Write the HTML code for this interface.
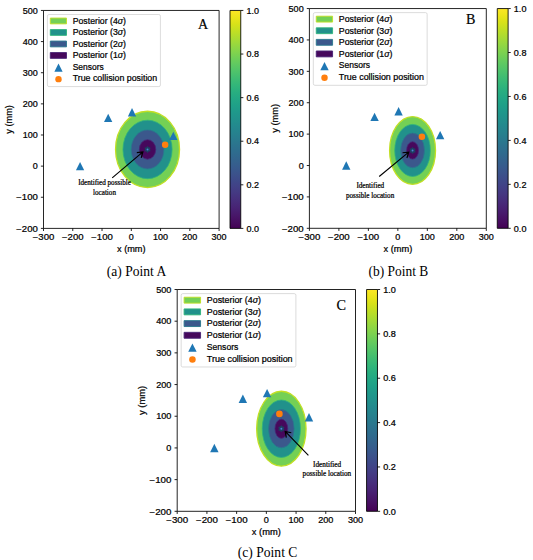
<!DOCTYPE html>
<html><head><meta charset="utf-8"><title>Figure</title>
<style>html,body{margin:0;padding:0;background:#fff;}body{width:533px;height:560px;overflow:hidden;}svg{display:block;}</style></head>
<body>
<svg width="533" height="560" viewBox="0 0 533 560" style="font-family:'Liberation Sans',sans-serif" stroke-linejoin="round">
<style>text{stroke:#000;stroke-width:0.22px;} .cap text{stroke:none;}</style>
<defs><linearGradient id="vir" x1="0" y1="0" x2="0" y2="1"><stop offset="0.0000" stop-color="#fde725"/><stop offset="0.0312" stop-color="#ece51b"/><stop offset="0.0625" stop-color="#d8e219"/><stop offset="0.0938" stop-color="#c2df23"/><stop offset="0.1250" stop-color="#addc30"/><stop offset="0.1562" stop-color="#98d83e"/><stop offset="0.1875" stop-color="#84d44b"/><stop offset="0.2188" stop-color="#70cf57"/><stop offset="0.2500" stop-color="#5ec962"/><stop offset="0.2812" stop-color="#4ec36b"/><stop offset="0.3125" stop-color="#3fbc73"/><stop offset="0.3438" stop-color="#32b67a"/><stop offset="0.3750" stop-color="#28ae80"/><stop offset="0.4062" stop-color="#22a785"/><stop offset="0.4375" stop-color="#1fa088"/><stop offset="0.4688" stop-color="#1f988b"/><stop offset="0.5000" stop-color="#21918c"/><stop offset="0.5312" stop-color="#23898e"/><stop offset="0.5625" stop-color="#26828e"/><stop offset="0.5938" stop-color="#297a8e"/><stop offset="0.6250" stop-color="#2c728e"/><stop offset="0.6562" stop-color="#2f6b8e"/><stop offset="0.6875" stop-color="#33638d"/><stop offset="0.7188" stop-color="#375b8d"/><stop offset="0.7500" stop-color="#3b528b"/><stop offset="0.7812" stop-color="#3e4989"/><stop offset="0.8125" stop-color="#424086"/><stop offset="0.8438" stop-color="#453781"/><stop offset="0.8750" stop-color="#472d7b"/><stop offset="0.9062" stop-color="#482374"/><stop offset="0.9375" stop-color="#48186a"/><stop offset="0.9688" stop-color="#470d60"/><stop offset="1.0000" stop-color="#440154"/></linearGradient></defs>
<rect width="533" height="560" fill="#fff"/>
<g transform="translate(43.5,10.45) scale(1.0,1.0)">
<g>
<ellipse cx="104.04" cy="138.99" rx="32.00" ry="38.20" fill="#74d055" stroke="#c2df23" stroke-width="1.3"/>
<ellipse cx="104.04" cy="138.99" rx="24.60" ry="29.25" fill="#21918b" stroke="#2fb47c" stroke-width="0.8"/>
<ellipse cx="104.04" cy="138.99" rx="16.40" ry="19.50" fill="#3b588c" stroke="#2a788e" stroke-width="0.8"/>
<ellipse cx="104.04" cy="138.99" rx="8.20" ry="9.75" fill="#46085c" stroke="#482475" stroke-width="0.8"/>
<polygon points="104.04,135.49 102.79,136.82 101.01,137.24 101.54,138.99 101.01,140.74 102.79,141.15 104.04,142.49 105.29,141.15 107.07,140.74 106.54,138.99 107.07,137.24 105.29,136.82" fill="#1d3f62"/>
<circle cx="104.04" cy="138.99" r="0.95" fill="#4a82d4"/>
</g>
<path d="M36.58,151.53 L32.43,159.83 L40.73,159.83 Z" fill="#1f77b4"/>
<path d="M64.68,103.27 L60.53,111.57 L68.83,111.57 Z" fill="#1f77b4"/>
<path d="M88.53,97.66 L84.38,105.96 L92.68,105.96 Z" fill="#1f77b4"/>
<path d="M129.80,121.33 L125.65,129.63 L133.95,129.63 Z" fill="#1f77b4"/>
<circle cx="121.63" cy="134.35" r="3.25" fill="#ff7f0e"/>
<path d="M68.70,167.45 L99.40,141.45 M97.71,147.34 L99.40,141.45 L93.31,142.15" stroke="#000" stroke-width="1.15" fill="none" stroke-linejoin="miter" style="stroke:#000"/>
<text x="61.00" y="175.00" text-anchor="middle" font-size="7.6" textLength="52.65" lengthAdjust="spacingAndGlyphs" style="font-family:'Liberation Serif',serif;stroke-width:0.24px" fill="#000">Identified possible</text>
<text x="61.00" y="184.40" text-anchor="middle" font-size="7.6" textLength="22.87" lengthAdjust="spacingAndGlyphs" style="font-family:'Liberation Serif',serif;stroke-width:0.24px" fill="#000">location</text>
<text x="154.60" y="18.15" font-size="14" style="font-family:'Liberation Serif',serif;stroke-width:0.2px">A</text>
<rect x="3.9" y="4.05" width="113.0" height="72.1" rx="1.6" ry="1.6" fill="#fff" fill-opacity="0.8" stroke="#d0d0d0" stroke-width="0.75"/>
<rect x="6.80" y="7.60" width="16.2" height="5.8" fill="#74d055" stroke="#c2df23" stroke-width="0.9"/>
<text x="29.20" y="13.30" font-size="8.3" textLength="53.28" lengthAdjust="spacingAndGlyphs">Posterior (4<tspan font-style="italic">σ</tspan>)</text>
<rect x="6.80" y="19.10" width="16.2" height="5.8" fill="#21918b" stroke="#2fb47c" stroke-width="0.9"/>
<text x="29.20" y="24.80" font-size="8.3" textLength="53.28" lengthAdjust="spacingAndGlyphs">Posterior (3<tspan font-style="italic">σ</tspan>)</text>
<rect x="6.80" y="30.60" width="16.2" height="5.8" fill="#3b588c" stroke="#2a788e" stroke-width="0.9"/>
<text x="29.20" y="36.30" font-size="8.3" textLength="53.28" lengthAdjust="spacingAndGlyphs">Posterior (2<tspan font-style="italic">σ</tspan>)</text>
<rect x="6.80" y="42.10" width="16.2" height="5.8" fill="#46085c" stroke="#482475" stroke-width="0.9"/>
<text x="29.20" y="47.80" font-size="8.3" textLength="53.28" lengthAdjust="spacingAndGlyphs">Posterior (1<tspan font-style="italic">σ</tspan>)</text>
<path d="M15.00,52.95 L10.85,61.25 L19.15,61.25 Z" fill="#1f77b4"/>
<text x="29.20" y="59.30" text-anchor="start" font-size="8.3" textLength="31.00" lengthAdjust="spacingAndGlyphs" >Sensors</text>
<circle cx="15.00" cy="68.70" r="3.2" fill="#ff7f0e"/>
<text x="29.20" y="70.80" text-anchor="start" font-size="8.3" textLength="84.47" lengthAdjust="spacingAndGlyphs" >True collision position</text>
<rect x="0" y="0" width="175.6" height="217.95" fill="none" stroke="#000" stroke-width="0.85"/>
<text x="0.00" y="229.65" text-anchor="middle" font-size="8.3" textLength="21.56" lengthAdjust="spacingAndGlyphs" >−300</text>
<text x="29.27" y="229.65" text-anchor="middle" font-size="8.3" textLength="21.56" lengthAdjust="spacingAndGlyphs" >−200</text>
<text x="58.53" y="229.65" text-anchor="middle" font-size="8.3" textLength="21.56" lengthAdjust="spacingAndGlyphs" >−100</text>
<text x="87.80" y="229.65" text-anchor="middle" font-size="8.3" textLength="4.99" lengthAdjust="spacingAndGlyphs" >0</text>
<text x="117.07" y="229.65" text-anchor="middle" font-size="8.3" textLength="14.98" lengthAdjust="spacingAndGlyphs" >100</text>
<text x="146.33" y="229.65" text-anchor="middle" font-size="8.3" textLength="14.98" lengthAdjust="spacingAndGlyphs" >200</text>
<text x="175.60" y="229.65" text-anchor="middle" font-size="8.3" textLength="14.98" lengthAdjust="spacingAndGlyphs" >300</text>
<text x="-5.70" y="221.15" text-anchor="end" font-size="8.3" textLength="21.56" lengthAdjust="spacingAndGlyphs" >−200</text>
<text x="-5.70" y="190.01" text-anchor="end" font-size="8.3" textLength="21.56" lengthAdjust="spacingAndGlyphs" >−100</text>
<text x="-5.70" y="158.88" text-anchor="end" font-size="8.3" textLength="4.99" lengthAdjust="spacingAndGlyphs" >0</text>
<text x="-5.70" y="127.74" text-anchor="end" font-size="8.3" textLength="14.98" lengthAdjust="spacingAndGlyphs" >100</text>
<text x="-5.70" y="96.61" text-anchor="end" font-size="8.3" textLength="14.98" lengthAdjust="spacingAndGlyphs" >200</text>
<text x="-5.70" y="65.47" text-anchor="end" font-size="8.3" textLength="14.98" lengthAdjust="spacingAndGlyphs" >300</text>
<text x="-5.70" y="34.34" text-anchor="end" font-size="8.3" textLength="14.98" lengthAdjust="spacingAndGlyphs" >400</text>
<text x="-5.70" y="3.20" text-anchor="end" font-size="8.3" textLength="14.98" lengthAdjust="spacingAndGlyphs" >500</text>
<path d="M0.00,217.95 v2.6 M29.27,217.95 v2.6 M58.53,217.95 v2.6 M87.80,217.95 v2.6 M117.07,217.95 v2.6 M146.33,217.95 v2.6 M175.60,217.95 v2.6 M0,217.95 h-2.6 M0,186.81 h-2.6 M0,155.68 h-2.6 M0,124.54 h-2.6 M0,93.41 h-2.6 M0,62.27 h-2.6 M0,31.14 h-2.6 M0,0.00 h-2.6" stroke="#000" stroke-width="0.85"/>
<text x="87.80" y="241.15" text-anchor="middle" font-size="8.3" textLength="28.56" lengthAdjust="spacingAndGlyphs" >x (mm)</text>
<g transform="translate(-31.6,108.97) rotate(-90)"><text x="0.00" y="0.00" text-anchor="middle" font-size="8.3" textLength="28.56" lengthAdjust="spacingAndGlyphs" >y (mm)</text></g>
<rect x="186.5" y="0" width="10.75" height="217.95" fill="url(#vir)" stroke="#000" stroke-width="0.85"/>
<text x="202.95" y="221.15" text-anchor="start" font-size="8.3" textLength="12.48" lengthAdjust="spacingAndGlyphs" >0.0</text>
<text x="202.95" y="177.56" text-anchor="start" font-size="8.3" textLength="12.48" lengthAdjust="spacingAndGlyphs" >0.2</text>
<text x="202.95" y="133.97" text-anchor="start" font-size="8.3" textLength="12.48" lengthAdjust="spacingAndGlyphs" >0.4</text>
<text x="202.95" y="90.38" text-anchor="start" font-size="8.3" textLength="12.48" lengthAdjust="spacingAndGlyphs" >0.6</text>
<text x="202.95" y="46.79" text-anchor="start" font-size="8.3" textLength="12.48" lengthAdjust="spacingAndGlyphs" >0.8</text>
<text x="202.95" y="3.20" text-anchor="start" font-size="8.3" textLength="12.48" lengthAdjust="spacingAndGlyphs" >1.0</text>
<path d="M197.25,217.95 h2.6 M197.25,174.36 h2.6 M197.25,130.77 h2.6 M197.25,87.18 h2.6 M197.25,43.59 h2.6 M197.25,0.00 h2.6" stroke="#000" stroke-width="0.85"/>
</g>
<g transform="translate(309.4,8.55) scale(1.0074031890660593,1.0082587749483827)">
<g>
<ellipse cx="102.40" cy="140.73" rx="22.80" ry="33.60" fill="#74d055" stroke="#c2df23" stroke-width="1.3"/>
<ellipse cx="102.40" cy="140.73" rx="17.70" ry="25.80" fill="#21918b" stroke="#2fb47c" stroke-width="0.8"/>
<ellipse cx="102.40" cy="140.73" rx="11.80" ry="17.20" fill="#3b588c" stroke="#2a788e" stroke-width="0.8"/>
<ellipse cx="102.40" cy="140.73" rx="5.90" ry="8.60" fill="#46085c" stroke="#482475" stroke-width="0.8"/>
<polygon points="102.40,137.23 101.15,138.57 99.37,138.98 99.90,140.73 99.37,142.48 101.15,142.90 102.40,144.23 103.65,142.90 105.44,142.48 104.90,140.73 105.44,138.98 103.65,138.57" fill="#1d3f62"/>
<circle cx="102.40" cy="140.73" r="0.95" fill="#4a82d4"/>
</g>
<path d="M36.58,151.53 L32.43,159.83 L40.73,159.83 Z" fill="#1f77b4"/>
<path d="M64.68,103.27 L60.53,111.57 L68.83,111.57 Z" fill="#1f77b4"/>
<path d="M88.53,97.66 L84.38,105.96 L92.68,105.96 Z" fill="#1f77b4"/>
<path d="M129.80,121.33 L125.65,129.63 L133.95,129.63 Z" fill="#1f77b4"/>
<circle cx="111.68" cy="127.10" r="3.25" fill="#ff7f0e"/>
<path d="M69.29,166.57 L98.57,142.37 M96.80,148.24 L98.57,142.37 L92.47,143.00" stroke="#000" stroke-width="1.15" fill="none" stroke-linejoin="miter" style="stroke:#000"/>
<text x="60.45" y="178.43" text-anchor="middle" font-size="7.6" textLength="27.60" lengthAdjust="spacingAndGlyphs" style="font-family:'Liberation Serif',serif;stroke-width:0.24px" fill="#000">Identified</text>
<text x="60.25" y="187.65" text-anchor="middle" font-size="7.6" textLength="47.92" lengthAdjust="spacingAndGlyphs" style="font-family:'Liberation Serif',serif;stroke-width:0.24px" fill="#000">possible location</text>
<text x="155.55" y="15.52" font-size="14" style="font-family:'Liberation Serif',serif;stroke-width:0.2px">B</text>
<rect x="3.9" y="4.05" width="113.0" height="72.1" rx="1.6" ry="1.6" fill="#fff" fill-opacity="0.8" stroke="#d0d0d0" stroke-width="0.75"/>
<rect x="6.80" y="7.60" width="16.2" height="5.8" fill="#74d055" stroke="#c2df23" stroke-width="0.9"/>
<text x="29.20" y="13.30" font-size="8.3" textLength="53.28" lengthAdjust="spacingAndGlyphs">Posterior (4<tspan font-style="italic">σ</tspan>)</text>
<rect x="6.80" y="19.10" width="16.2" height="5.8" fill="#21918b" stroke="#2fb47c" stroke-width="0.9"/>
<text x="29.20" y="24.80" font-size="8.3" textLength="53.28" lengthAdjust="spacingAndGlyphs">Posterior (3<tspan font-style="italic">σ</tspan>)</text>
<rect x="6.80" y="30.60" width="16.2" height="5.8" fill="#3b588c" stroke="#2a788e" stroke-width="0.9"/>
<text x="29.20" y="36.30" font-size="8.3" textLength="53.28" lengthAdjust="spacingAndGlyphs">Posterior (2<tspan font-style="italic">σ</tspan>)</text>
<rect x="6.80" y="42.10" width="16.2" height="5.8" fill="#46085c" stroke="#482475" stroke-width="0.9"/>
<text x="29.20" y="47.80" font-size="8.3" textLength="53.28" lengthAdjust="spacingAndGlyphs">Posterior (1<tspan font-style="italic">σ</tspan>)</text>
<path d="M15.00,52.95 L10.85,61.25 L19.15,61.25 Z" fill="#1f77b4"/>
<text x="29.20" y="59.30" text-anchor="start" font-size="8.3" textLength="31.00" lengthAdjust="spacingAndGlyphs" >Sensors</text>
<circle cx="15.00" cy="68.70" r="3.2" fill="#ff7f0e"/>
<text x="29.20" y="70.80" text-anchor="start" font-size="8.3" textLength="84.47" lengthAdjust="spacingAndGlyphs" >True collision position</text>
<rect x="0" y="0" width="175.6" height="217.95" fill="none" stroke="#000" stroke-width="0.85"/>
<text x="0.00" y="229.65" text-anchor="middle" font-size="8.3" textLength="21.56" lengthAdjust="spacingAndGlyphs" >−300</text>
<text x="29.27" y="229.65" text-anchor="middle" font-size="8.3" textLength="21.56" lengthAdjust="spacingAndGlyphs" >−200</text>
<text x="58.53" y="229.65" text-anchor="middle" font-size="8.3" textLength="21.56" lengthAdjust="spacingAndGlyphs" >−100</text>
<text x="87.80" y="229.65" text-anchor="middle" font-size="8.3" textLength="4.99" lengthAdjust="spacingAndGlyphs" >0</text>
<text x="117.07" y="229.65" text-anchor="middle" font-size="8.3" textLength="14.98" lengthAdjust="spacingAndGlyphs" >100</text>
<text x="146.33" y="229.65" text-anchor="middle" font-size="8.3" textLength="14.98" lengthAdjust="spacingAndGlyphs" >200</text>
<text x="175.60" y="229.65" text-anchor="middle" font-size="8.3" textLength="14.98" lengthAdjust="spacingAndGlyphs" >300</text>
<text x="-5.70" y="221.15" text-anchor="end" font-size="8.3" textLength="21.56" lengthAdjust="spacingAndGlyphs" >−200</text>
<text x="-5.70" y="190.01" text-anchor="end" font-size="8.3" textLength="21.56" lengthAdjust="spacingAndGlyphs" >−100</text>
<text x="-5.70" y="158.88" text-anchor="end" font-size="8.3" textLength="4.99" lengthAdjust="spacingAndGlyphs" >0</text>
<text x="-5.70" y="127.74" text-anchor="end" font-size="8.3" textLength="14.98" lengthAdjust="spacingAndGlyphs" >100</text>
<text x="-5.70" y="96.61" text-anchor="end" font-size="8.3" textLength="14.98" lengthAdjust="spacingAndGlyphs" >200</text>
<text x="-5.70" y="65.47" text-anchor="end" font-size="8.3" textLength="14.98" lengthAdjust="spacingAndGlyphs" >300</text>
<text x="-5.70" y="34.34" text-anchor="end" font-size="8.3" textLength="14.98" lengthAdjust="spacingAndGlyphs" >400</text>
<text x="-5.70" y="3.20" text-anchor="end" font-size="8.3" textLength="14.98" lengthAdjust="spacingAndGlyphs" >500</text>
<path d="M0.00,217.95 v2.6 M29.27,217.95 v2.6 M58.53,217.95 v2.6 M87.80,217.95 v2.6 M117.07,217.95 v2.6 M146.33,217.95 v2.6 M175.60,217.95 v2.6 M0,217.95 h-2.6 M0,186.81 h-2.6 M0,155.68 h-2.6 M0,124.54 h-2.6 M0,93.41 h-2.6 M0,62.27 h-2.6 M0,31.14 h-2.6 M0,0.00 h-2.6" stroke="#000" stroke-width="0.85"/>
<text x="87.80" y="241.15" text-anchor="middle" font-size="8.3" textLength="28.56" lengthAdjust="spacingAndGlyphs" >x (mm)</text>
<g transform="translate(-31.6,108.97) rotate(-90)"><text x="0.00" y="0.00" text-anchor="middle" font-size="8.3" textLength="28.56" lengthAdjust="spacingAndGlyphs" >y (mm)</text></g>
<rect x="186.5" y="0" width="10.75" height="217.95" fill="url(#vir)" stroke="#000" stroke-width="0.85"/>
<text x="202.95" y="221.15" text-anchor="start" font-size="8.3" textLength="12.48" lengthAdjust="spacingAndGlyphs" >0.0</text>
<text x="202.95" y="177.56" text-anchor="start" font-size="8.3" textLength="12.48" lengthAdjust="spacingAndGlyphs" >0.2</text>
<text x="202.95" y="133.97" text-anchor="start" font-size="8.3" textLength="12.48" lengthAdjust="spacingAndGlyphs" >0.4</text>
<text x="202.95" y="90.38" text-anchor="start" font-size="8.3" textLength="12.48" lengthAdjust="spacingAndGlyphs" >0.6</text>
<text x="202.95" y="46.79" text-anchor="start" font-size="8.3" textLength="12.48" lengthAdjust="spacingAndGlyphs" >0.8</text>
<text x="202.95" y="3.20" text-anchor="start" font-size="8.3" textLength="12.48" lengthAdjust="spacingAndGlyphs" >1.0</text>
<path d="M197.25,217.95 h2.6 M197.25,174.36 h2.6 M197.25,130.77 h2.6 M197.25,87.18 h2.6 M197.25,43.59 h2.6 M197.25,0.00 h2.6" stroke="#000" stroke-width="0.85"/>
</g>
<g transform="translate(177.2,289.5) scale(1.0153758542141231,1.0176646019729296)">
<g>
<ellipse cx="102.58" cy="136.81" rx="24.32" ry="36.80" fill="#74d055" stroke="#c2df23" stroke-width="1.3"/>
<ellipse cx="102.58" cy="136.81" rx="18.84" ry="28.20" fill="#21918b" stroke="#2fb47c" stroke-width="0.8"/>
<ellipse cx="102.58" cy="136.81" rx="12.56" ry="18.80" fill="#3b588c" stroke="#2a788e" stroke-width="0.8"/>
<ellipse cx="102.58" cy="136.81" rx="6.28" ry="9.40" fill="#46085c" stroke="#482475" stroke-width="0.8"/>
<polygon points="102.58,133.31 101.33,134.65 99.55,135.06 100.08,136.81 99.55,138.56 101.33,138.98 102.58,140.31 103.83,138.98 105.61,138.56 105.08,136.81 105.61,135.06 103.83,134.65" fill="#1d3f62"/>
<circle cx="102.58" cy="136.81" r="0.95" fill="#4a82d4"/>
</g>
<path d="M36.58,151.53 L32.43,159.83 L40.73,159.83 Z" fill="#1f77b4"/>
<path d="M64.68,103.27 L60.53,111.57 L68.83,111.57 Z" fill="#1f77b4"/>
<path d="M88.53,97.66 L84.38,105.96 L92.68,105.96 Z" fill="#1f77b4"/>
<path d="M129.80,121.33 L125.65,129.63 L133.95,129.63 Z" fill="#1f77b4"/>
<circle cx="100.65" cy="122.27" r="3.25" fill="#ff7f0e"/>
<path d="M129.21,163.02 L106.36,139.44 M112.36,140.73 L106.36,139.44 L107.47,145.47" stroke="#000" stroke-width="1.15" fill="none" stroke-linejoin="miter" style="stroke:#000"/>
<text x="147.63" y="174.57" text-anchor="middle" font-size="7.6" textLength="27.60" lengthAdjust="spacingAndGlyphs" style="font-family:'Liberation Serif',serif;stroke-width:0.24px" fill="#000">Identified</text>
<text x="147.43" y="183.61" text-anchor="middle" font-size="7.6" textLength="47.92" lengthAdjust="spacingAndGlyphs" style="font-family:'Liberation Serif',serif;stroke-width:0.24px" fill="#000">possible location</text>
<text x="156.89" y="20.54" font-size="14" style="font-family:'Liberation Serif',serif;stroke-width:0.2px">C</text>
<rect x="3.9" y="4.05" width="113.0" height="72.1" rx="1.6" ry="1.6" fill="#fff" fill-opacity="0.8" stroke="#d0d0d0" stroke-width="0.75"/>
<rect x="6.80" y="7.60" width="16.2" height="5.8" fill="#74d055" stroke="#c2df23" stroke-width="0.9"/>
<text x="29.20" y="13.30" font-size="8.3" textLength="53.28" lengthAdjust="spacingAndGlyphs">Posterior (4<tspan font-style="italic">σ</tspan>)</text>
<rect x="6.80" y="19.10" width="16.2" height="5.8" fill="#21918b" stroke="#2fb47c" stroke-width="0.9"/>
<text x="29.20" y="24.80" font-size="8.3" textLength="53.28" lengthAdjust="spacingAndGlyphs">Posterior (3<tspan font-style="italic">σ</tspan>)</text>
<rect x="6.80" y="30.60" width="16.2" height="5.8" fill="#3b588c" stroke="#2a788e" stroke-width="0.9"/>
<text x="29.20" y="36.30" font-size="8.3" textLength="53.28" lengthAdjust="spacingAndGlyphs">Posterior (2<tspan font-style="italic">σ</tspan>)</text>
<rect x="6.80" y="42.10" width="16.2" height="5.8" fill="#46085c" stroke="#482475" stroke-width="0.9"/>
<text x="29.20" y="47.80" font-size="8.3" textLength="53.28" lengthAdjust="spacingAndGlyphs">Posterior (1<tspan font-style="italic">σ</tspan>)</text>
<path d="M15.00,52.95 L10.85,61.25 L19.15,61.25 Z" fill="#1f77b4"/>
<text x="29.20" y="59.30" text-anchor="start" font-size="8.3" textLength="31.00" lengthAdjust="spacingAndGlyphs" >Sensors</text>
<circle cx="15.00" cy="68.70" r="3.2" fill="#ff7f0e"/>
<text x="29.20" y="70.80" text-anchor="start" font-size="8.3" textLength="84.47" lengthAdjust="spacingAndGlyphs" >True collision position</text>
<rect x="0" y="0" width="175.6" height="217.95" fill="none" stroke="#000" stroke-width="0.85"/>
<text x="0.00" y="229.65" text-anchor="middle" font-size="8.3" textLength="21.56" lengthAdjust="spacingAndGlyphs" >−300</text>
<text x="29.27" y="229.65" text-anchor="middle" font-size="8.3" textLength="21.56" lengthAdjust="spacingAndGlyphs" >−200</text>
<text x="58.53" y="229.65" text-anchor="middle" font-size="8.3" textLength="21.56" lengthAdjust="spacingAndGlyphs" >−100</text>
<text x="87.80" y="229.65" text-anchor="middle" font-size="8.3" textLength="4.99" lengthAdjust="spacingAndGlyphs" >0</text>
<text x="117.07" y="229.65" text-anchor="middle" font-size="8.3" textLength="14.98" lengthAdjust="spacingAndGlyphs" >100</text>
<text x="146.33" y="229.65" text-anchor="middle" font-size="8.3" textLength="14.98" lengthAdjust="spacingAndGlyphs" >200</text>
<text x="175.60" y="229.65" text-anchor="middle" font-size="8.3" textLength="14.98" lengthAdjust="spacingAndGlyphs" >300</text>
<text x="-5.70" y="221.15" text-anchor="end" font-size="8.3" textLength="21.56" lengthAdjust="spacingAndGlyphs" >−200</text>
<text x="-5.70" y="190.01" text-anchor="end" font-size="8.3" textLength="21.56" lengthAdjust="spacingAndGlyphs" >−100</text>
<text x="-5.70" y="158.88" text-anchor="end" font-size="8.3" textLength="4.99" lengthAdjust="spacingAndGlyphs" >0</text>
<text x="-5.70" y="127.74" text-anchor="end" font-size="8.3" textLength="14.98" lengthAdjust="spacingAndGlyphs" >100</text>
<text x="-5.70" y="96.61" text-anchor="end" font-size="8.3" textLength="14.98" lengthAdjust="spacingAndGlyphs" >200</text>
<text x="-5.70" y="65.47" text-anchor="end" font-size="8.3" textLength="14.98" lengthAdjust="spacingAndGlyphs" >300</text>
<text x="-5.70" y="34.34" text-anchor="end" font-size="8.3" textLength="14.98" lengthAdjust="spacingAndGlyphs" >400</text>
<text x="-5.70" y="3.20" text-anchor="end" font-size="8.3" textLength="14.98" lengthAdjust="spacingAndGlyphs" >500</text>
<path d="M0.00,217.95 v2.6 M29.27,217.95 v2.6 M58.53,217.95 v2.6 M87.80,217.95 v2.6 M117.07,217.95 v2.6 M146.33,217.95 v2.6 M175.60,217.95 v2.6 M0,217.95 h-2.6 M0,186.81 h-2.6 M0,155.68 h-2.6 M0,124.54 h-2.6 M0,93.41 h-2.6 M0,62.27 h-2.6 M0,31.14 h-2.6 M0,0.00 h-2.6" stroke="#000" stroke-width="0.85"/>
<text x="87.80" y="241.15" text-anchor="middle" font-size="8.3" textLength="28.56" lengthAdjust="spacingAndGlyphs" >x (mm)</text>
<g transform="translate(-31.6,108.97) rotate(-90)"><text x="0.00" y="0.00" text-anchor="middle" font-size="8.3" textLength="28.56" lengthAdjust="spacingAndGlyphs" >y (mm)</text></g>
<rect x="186.5" y="0" width="10.75" height="217.95" fill="url(#vir)" stroke="#000" stroke-width="0.85"/>
<text x="202.95" y="221.15" text-anchor="start" font-size="8.3" textLength="12.48" lengthAdjust="spacingAndGlyphs" >0.0</text>
<text x="202.95" y="177.56" text-anchor="start" font-size="8.3" textLength="12.48" lengthAdjust="spacingAndGlyphs" >0.2</text>
<text x="202.95" y="133.97" text-anchor="start" font-size="8.3" textLength="12.48" lengthAdjust="spacingAndGlyphs" >0.4</text>
<text x="202.95" y="90.38" text-anchor="start" font-size="8.3" textLength="12.48" lengthAdjust="spacingAndGlyphs" >0.6</text>
<text x="202.95" y="46.79" text-anchor="start" font-size="8.3" textLength="12.48" lengthAdjust="spacingAndGlyphs" >0.8</text>
<text x="202.95" y="3.20" text-anchor="start" font-size="8.3" textLength="12.48" lengthAdjust="spacingAndGlyphs" >1.0</text>
<path d="M197.25,217.95 h2.6 M197.25,174.36 h2.6 M197.25,130.77 h2.6 M197.25,87.18 h2.6 M197.25,43.59 h2.6 M197.25,0.00 h2.6" stroke="#000" stroke-width="0.85"/>
</g>
<g style="font-family:'Liberation Serif',serif" font-size="13.8" fill="#000" class="cap"><text x="106.8" y="276.1" textLength="59.5" lengthAdjust="spacingAndGlyphs">(a) Point A</text><text x="368.5" y="276.1" textLength="59.7" lengthAdjust="spacingAndGlyphs">(b) Point B</text><text x="237.8" y="557.0" textLength="59.6" lengthAdjust="spacingAndGlyphs">(c) Point C</text></g>
</svg>
</body></html>
